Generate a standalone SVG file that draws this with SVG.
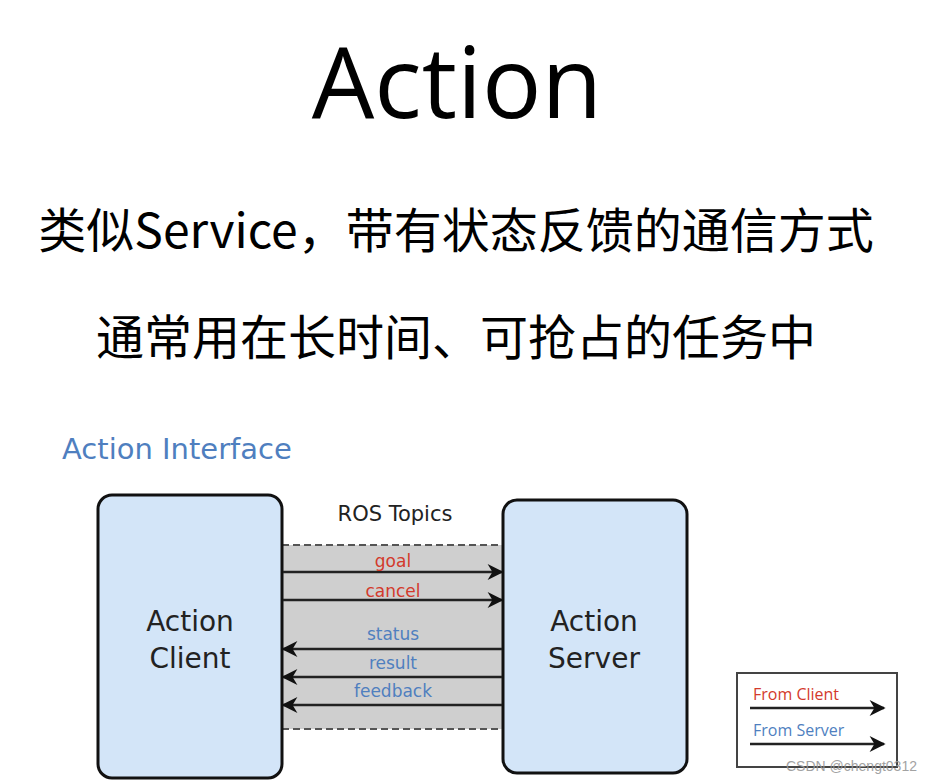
<svg xmlns="http://www.w3.org/2000/svg" width="947" height="784" viewBox="0 0 947 784">
<style>
.cn{font-family:"Microsoft YaHei","Noto Sans CJK SC",sans-serif;font-size:48px;fill:#000}
.dv{font-family:"DejaVu Sans",sans-serif}
.box{fill:#d3e5f8;stroke:#111;stroke-width:3}
.ln{stroke:#222;stroke-width:2.5;fill:none}
.red{fill:#d33a2c;font-size:17px}
.blue{fill:#4f7fbf;font-size:17px}
</style>
<defs>
<marker id="ahl" viewBox="0 0 10 10" refX="9" refY="5" markerWidth="20" markerHeight="16" markerUnits="userSpaceOnUse" orient="auto">
<path d="M0,0 L10,5 L0,10 L3,5 Z" fill="#111"/>
</marker>
</defs>
<rect width="947" height="784" fill="#fff"/>
<text x="457" y="118" text-anchor="middle" font-family="Open Sans,Noto Sans,sans-serif" font-size="99" fill="#000">Action</text>
<text x="456" y="248" text-anchor="middle" class="cn">类似Service，带有状态反馈的通信方式</text>
<text x="456" y="355" text-anchor="middle" class="cn">通常用在长时间、可抢占的任务中</text>
<text x="62" y="459" class="dv" font-size="29" fill="#4f7fbf">Action Interface</text>
<g id="band">
<rect x="282" y="545" width="221" height="184" fill="#cfcfcf"/>
<line x1="282" y1="545" x2="503" y2="545" stroke="#555" stroke-width="2" stroke-dasharray="7,4"/>
<line x1="282" y1="729" x2="503" y2="729" stroke="#555" stroke-width="2" stroke-dasharray="7,4"/>
<text x="395" y="521" text-anchor="middle" class="dv" font-size="21" fill="#222">ROS Topics</text>
</g>
<g id="client"><rect class="box" x="98" y="495" width="184" height="283" rx="14"/>
<text x="190" y="631" text-anchor="middle" class="dv" font-size="28" fill="#222">Action</text>
<text x="190" y="668" text-anchor="middle" class="dv" font-size="28" fill="#222">Client</text></g>
<g id="server"><rect class="box" x="503" y="500" width="184" height="273" rx="14"/>
<text x="594" y="631" text-anchor="middle" class="dv" font-size="28" fill="#222">Action</text>
<text x="594" y="668" text-anchor="middle" class="dv" font-size="28" fill="#222">Server</text></g>
<g id="connectors">
<line class="ln" x1="283" y1="572" x2="502" y2="572" marker-end="url(#ahl)"/>
<line class="ln" x1="283" y1="600" x2="502" y2="600" marker-end="url(#ahl)"/>
<line class="ln" x1="502" y1="649" x2="283" y2="649" marker-end="url(#ahl)"/>
<line class="ln" x1="502" y1="677" x2="283" y2="677" marker-end="url(#ahl)"/>
<line class="ln" x1="502" y1="705" x2="283" y2="705" marker-end="url(#ahl)"/>
<text x="393" y="567" text-anchor="middle" class="dv red">goal</text>
<text x="393" y="597" text-anchor="middle" class="dv red">cancel</text>
<text x="393" y="640" text-anchor="middle" class="dv blue">status</text>
<text x="393" y="669" text-anchor="middle" class="dv blue">result</text>
<text x="393" y="697" text-anchor="middle" class="dv blue">feedback</text>
</g>
<g id="legend">
<rect x="737" y="673" width="160" height="94" fill="#fff" stroke="#444" stroke-width="2"/>
<text x="753" y="700" font-family="Open Sans,sans-serif" font-size="16" fill="#d33a2c">From Client</text>
<line class="ln" x1="750" y1="708" x2="884" y2="708" marker-end="url(#ahl)"/>
<text x="753" y="736" font-family="Open Sans,sans-serif" font-size="16" fill="#4f7fbf">From Server</text>
<line class="ln" x1="750" y1="744" x2="884" y2="744" marker-end="url(#ahl)"/>
</g>
<text x="786" y="771" font-family="Liberation Sans,sans-serif" font-size="14" fill="#999" opacity="0.9">CSDN @chengt0312</text>
</svg>
